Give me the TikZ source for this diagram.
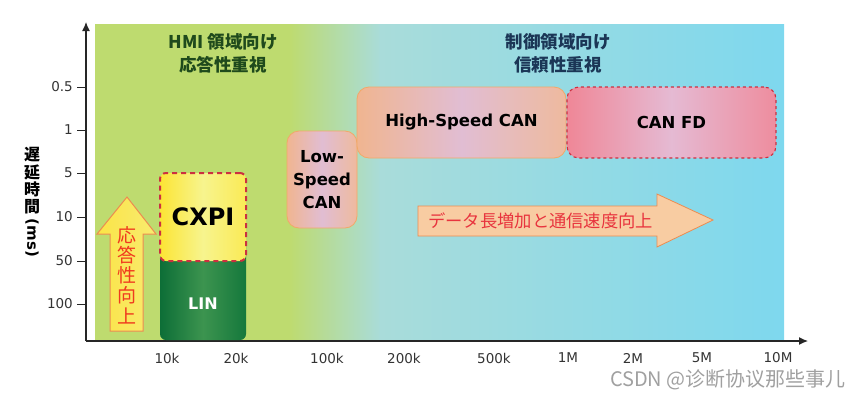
\documentclass[tikz,border=0pt]{standalone}
\usepackage{fontspec}
\setmainfont{DejaVu Sans}
\newfontfamily\jpfont{Noto Sans CJK JP}
\newfontfamily\zhfont{Noto Sans CJK SC}
\usetikzlibrary{arrows.meta,positioning}

\definecolor{bggreen}{HTML}{BEDB6F}
\definecolor{bgmid}{HTML}{A9DCDA}
\definecolor{bgcyan}{HTML}{7ED8EE}
\definecolor{axisgray}{HTML}{262626}
\definecolor{ticktxt}{HTML}{333333}
\definecolor{hmigreen}{HTML}{1F4A1C}
\definecolor{ctrlblue}{HTML}{1B3656}
\definecolor{canl}{HTML}{F0B590}
\definecolor{canm}{HTML}{E1BDD3}
\definecolor{canr}{HTML}{EEBA9E}
\definecolor{canedge}{HTML}{F2A868}
\definecolor{fdl}{HTML}{EF8797}
\definecolor{fdm}{HTML}{E5BAD3}
\definecolor{fdr}{HTML}{EE8D9E}
\definecolor{dashred}{HTML}{CC3040}
\definecolor{cxl}{HTML}{FCE535}
\definecolor{cxm}{HTML}{F7F48E}
\definecolor{cxr}{HTML}{FAEA55}
\definecolor{linl}{HTML}{0D6E37}
\definecolor{linm}{HTML}{3C944F}
\definecolor{linr}{HTML}{15783C}
\definecolor{uparrow}{HTML}{FBE446}
\definecolor{uparrowr}{HTML}{F8EB70}
\definecolor{arrowedge}{HTML}{EC8C50}
\definecolor{rtarrow}{HTML}{F8CCA2}
\definecolor{uptxt}{HTML}{F03A1E}
\definecolor{rttxt}{HTML}{E8343E}
\definecolor{marktxt}{HTML}{A0A0A0}

\tikzset{
    axis/.style={line width=1.2pt, axisgray, -{Latex[length=9pt,width=8pt]}},
    ticklbl/.style={font=\fontsize{13.5}{15}\selectfont, text=ticktxt, inner sep=0pt},
    busbox/.style={rounded corners=12pt, inner sep=0pt, align=center,
        font=\bfseries\fontsize{16.5}{23}\selectfont},
    canbox/.style={busbox, draw=canedge, line width=0.8pt,
        left color=canl, right color=canr, middle color=canm},
    fdbox/.style={busbox, draw=dashred, dashed, line width=1.1pt,
        left color=fdl, right color=fdr, middle color=fdm},
    cxpibox/.style={rounded corners=6pt, inner sep=0pt, draw=dashred, line width=2pt,
        dash pattern=on 5pt off 4pt, left color=cxl, right color=cxr, middle color=cxm,
        font=\bfseries\fontsize{24}{26}\selectfont},
    linbox/.style={rounded corners=6pt, inner sep=0pt,
        left color=linl, right color=linr, middle color=linm},
    areatitle/.style={align=center, font=\jpfont\bfseries\fontsize{17.5}{23}\selectfont},
    ylbl/.style={align=center, inner sep=0pt, font=\jpfont\bfseries\fontsize{16}{17.3}\selectfont},
}

\begin{document}
\begin{tikzpicture}[x=1pt,y=-1pt]
    \useasboundingbox (0,0) rectangle (860,400);

    \fill[bggreen] (95,24) rectangle (290,340);
    \shade[left color=bggreen, right color=bgmid] (289,24) rectangle (381,340);
    \shade[left color=bgmid, right color=bgcyan] (380,24) rectangle (784,340);

    \draw[axis] (86,341) -- (86,22);
    \draw[axis] (86,341) -- (808,341);

    \foreach \v/\y [count=\i] in {0.5/87, 1/130, 5/173, 10/217, 50/261, 100/304} {
        \draw[line width=1pt, axisgray] (77,\y) -- (86,\y);
        \node[ticklbl, anchor=east] (yt\i) at (73,\y) {\v};
    }
    \foreach \v/\x [count=\i] in {10k/167, 20k/236, 100k/327, 200k/404, 500k/494, 1M/568, 2M/633, 5M/702, 10M/778} {
        \node[ticklbl] (xt\i) at (\x,358) {\v};
    }

    \node[ylbl] (ylab) at (32,181) {遅\\延\\時\\間};
    \node[ylbl, font=\bfseries\fontsize{15}{17}\selectfont, rotate=-90] (yunit) at (32,238) {(ms)};

    \node[areatitle, text=hmigreen] (hmi) at (223,53.5) {HMI 領域向け\\応答性重視};
    \node[areatitle, text=ctrlblue] (ctrl) at (558,53.5) {制御領域向け\\信頼性重視};

    \path[draw=arrowedge, line width=1pt, left color=uparrow, right color=uparrowr]
        (127,197) -- (156,234) -- (143,234) -- (143,331) -- (110,331) -- (110,234) -- (97,234) -- cycle;
    \node[align=center, inner sep=0pt, text=uptxt, font=\jpfont\fontsize{19}{20.25}\selectfont] (uplbl) at (127,275) {応\\答\\性\\向\\上};

    \node[linbox, minimum width=86pt, minimum height=100pt] (lin) at (203,290) {};
    \node[text=white, font=\bfseries\fontsize{16}{18}\selectfont] (linlbl) at ([yshift=-14pt]lin.center) {LIN};
    \node[cxpibox, minimum width=86pt, minimum height=88pt] (cxpi) at (203,217) {CXPI};

    \node[canbox, minimum width=70pt, minimum height=97pt] (lscan) at (322,179.5) {Low-\\Speed\\CAN};
    \node[canbox, minimum width=209pt, minimum height=71pt] (hscan) at (461.5,122.5) {High-Speed CAN};
    \node[fdbox, minimum width=209pt, minimum height=71pt, right=0pt of hscan] (canfd) {CAN FD};

    \filldraw[fill=rtarrow, draw=arrowedge, line width=0.8pt]
        (418,206) -- (657,206) -- (657,194) -- (713,220) -- (657,247) -- (657,236) -- (418,236) -- cycle;
    \node[anchor=west, inner sep=0pt, text=rttxt, font=\jpfont\fontsize{17.3}{19}\selectfont] (rtlbl) at (428,221) {データ長増加と通信速度向上};

    \node[anchor=east, inner sep=0pt, text=marktxt, font=\zhfont\fontsize{20}{22}\selectfont] (mark) at (846,380) {CSDN @诊断协议那些事儿};
\end{tikzpicture}
\end{document}
